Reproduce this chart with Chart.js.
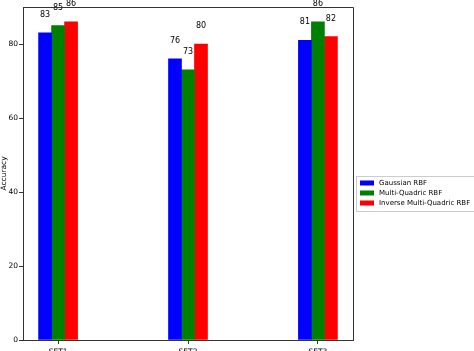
<!DOCTYPE html>
<html>
<head>
<meta charset="utf-8">
<script src="https://cdn.jsdelivr.net/npm/chart.js@4/dist/chart.umd.min.js"></script>
<style>
html, body { margin: 0; padding: 0; background: #fff; }
#wrap { width: 474px; height: 351px; }
</style>
</head>
<body>
<div id="wrap"><canvas id="accuracyChart" width="474" height="351"></canvas></div>
<script>
const categories = ['SET1', 'SET2', 'SET3'];
const gaussianRbf = [83, 76, 81];
const multiQuadricRbf = [85, 73, 86];
const inverseMultiQuadricRbf = [86, 80, 82];
const yTicks = [0, 20, 40, 60, 80];
const seriesNames = ['Gaussian RBF', 'Multi-Quadric RBF', 'Inverse Multi-Quadric RBF'];

document.addEventListener("DOMContentLoaded", function () {
    const canvas = document.getElementById('accuracyChart');
    const ctx = canvas.getContext('2d');
    const FONT = 'DejaVu Sans';

    function toPoints(values) {
        return values.map((v, i) => ({ x: i, y: v }));
    }

    // top + right spines like matplotlib
    const frame = {
        id: 'frame',
        afterDraw(chart) {
            const a = chart.chartArea;
            const c = chart.ctx;
            c.save();
            c.strokeStyle = '#333';
            c.lineWidth = 1;
            c.beginPath();
            c.moveTo(a.left, a.top + 0.5);
            c.lineTo(a.right + 0.5, a.top + 0.5);
            c.lineTo(a.right + 0.5, a.bottom);
            c.stroke();
            c.restore();
        }
    };

    // value labels above every bar
    const valueLabels = {
        id: 'valueLabels',
        afterDatasetsDraw(chart) {
            const c = chart.ctx;
            c.save();
            c.font = '8px "' + FONT + '"';
            c.fillStyle = '#000';
            c.textAlign = 'center';
            c.textBaseline = 'middle';
            chart.data.datasets.forEach((ds, di) => {
                const meta = chart.getDatasetMeta(di);
                meta.data.forEach((bar, i) => {
                    c.fillText(String(ds.data[i].y), bar.x, bar.y - 18);
                });
            });
            c.restore();
        }
    };

    // legend box sitting to the right of the plot
    const sideLegend = {
        id: 'sideLegend',
        afterDraw(chart) {
            const c = chart.ctx;
            const x0 = 356, y0 = 176;
            c.save();
            c.fillStyle = '#fff';
            c.strokeStyle = '#ccc';
            c.lineWidth = 1;
            c.fillRect(x0, y0, 125, 35);
            c.strokeRect(x0 + 0.5, y0 + 0.5, 125, 35);
            c.font = '7px "' + FONT + '"';
            c.textBaseline = 'middle';
            c.textAlign = 'left';
            chart.data.datasets.forEach((ds, i) => {
                const y = y0 + 7.5 + i * 10;
                c.fillStyle = ds.backgroundColor;
                c.fillRect(x0 + 4, y - 3, 14, 5);
                c.fillStyle = '#000';
                c.fillText(ds.label, x0 + 23, y);
            });
            c.restore();
        }
    };

    new Chart(ctx, {
        type: 'bar',
        data: {
            datasets: [
                { label: seriesNames[0], data: toPoints(gaussianRbf), backgroundColor: '#0000ff' },
                { label: seriesNames[1], data: toPoints(multiQuadricRbf), backgroundColor: '#008000' },
                { label: seriesNames[2], data: toPoints(inverseMultiQuadricRbf), backgroundColor: '#ff0000' }
            ]
        },
        options: {
            responsive: false,
            animation: false,
            devicePixelRatio: 1,
            barThickness: 13,
            layout: { padding: { top: 7, right: 121, left: 0, bottom: 0 } },
            plugins: {
                legend: { display: false },
                tooltip: { enabled: false }
            },
            scales: {
                x: {
                    type: 'linear',
                    offset: false,
                    min: -0.27,
                    max: 2.27,
                    afterBuildTicks: scale => { scale.ticks = categories.map((c, i) => ({ value: i })); },
                    afterFit: scale => { scale.height = 11; },
                    ticks: {
                        callback: v => categories[v],
                        font: { family: FONT, size: 7.5 },
                        color: '#000',
                        padding: 4,
                        maxRotation: 0
                    },
                    grid: { offset: false, drawOnChartArea: false, drawTicks: true, tickLength: 4, color: '#333' },
                    border: { display: true, color: '#333' }
                },
                y: {
                    min: 0,
                    max: 90,
                    afterBuildTicks: scale => { scale.ticks = yTicks.map(v => ({ value: v })); },
                    afterFit: scale => { scale.width = 23; },
                    title: {
                        display: true,
                        text: 'Accuracy',
                        font: { family: FONT, size: 7.5 },
                        color: '#000',
                        padding: 0
                    },
                    ticks: {
                        font: { family: FONT, size: 7.5 },
                        color: '#000',
                        padding: 1
                    },
                    grid: { drawOnChartArea: false, drawTicks: true, tickLength: 4, color: '#333' },
                    border: { display: true, color: '#333' }
                }
            }
        },
        plugins: [frame, valueLabels, sideLegend]
    });
});
</script>
</body>
</html>
